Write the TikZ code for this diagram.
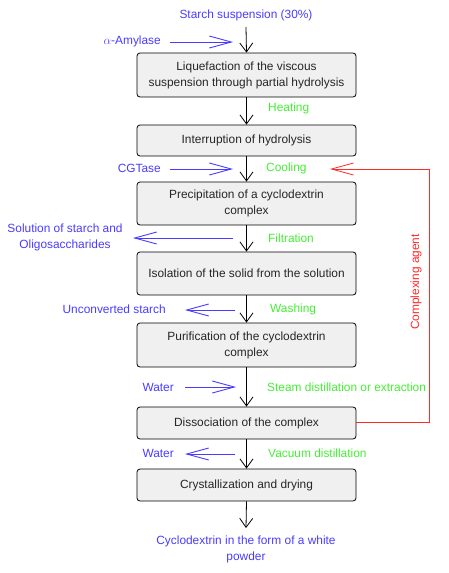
\documentclass[tikz,border=0pt]{standalone}
\usepackage{fontspec}
\setmainfont{Liberation Sans}
\usetikzlibrary{arrows.meta}
\definecolor{lblue}{HTML}{4A3CFF}
\definecolor{lgreen}{HTML}{44EE33}
\definecolor{lred}{HTML}{FF2A2A}
\definecolor{boxfill}{HTML}{EFF0EF}
\begin{document}
\begin{tikzpicture}[x=1pt,y=-1pt,
  every node/.style={font=\fontsize{11.9}{16}\selectfont, inner sep=0pt},
  stepbox/.style={draw=black, fill=boxfill, rounded corners=3pt, line width=0.8pt, minimum width=219pt, align=center, text=black!85},
  flow/.style={draw=black, line width=0.8pt, -{Straight Barb[length=9pt,width=13pt,line width=0.8pt]}},
  side/.style={draw=lblue, line width=0.9pt, -{Straight Barb[length=22pt,width=12pt,line width=0.9pt]}},
  back/.style={draw=lred, line width=0.8pt, -{Straight Barb[length=22pt,width=12pt,line width=0.8pt]}},
  inlab/.style={text=lblue, align=center},
  oplab/.style={text=lgreen, anchor=west}
]
\useasboundingbox (0,0) rectangle (448,573);

\node[stepbox, minimum height=44pt] (b1) at (246.5,75) {Liquefaction of the viscous\\suspension through partial hydrolysis};
\node[stepbox, minimum height=31pt] (b2) at (246.5,140.5) {Interruption of hydrolysis};
\node[stepbox, minimum height=43pt] (b3) at (246.5,203.5) {Precipitation of a cyclodextrin\\complex};
\node[stepbox, minimum height=43pt] (b4) at (246.5,273.5) {Isolation of the solid from the solution};
\node[stepbox, minimum height=44pt] (b5) at (246.5,345) {Purification of the cyclodextrin\\complex};
\node[stepbox, minimum height=32pt] (b6) at (246.5,423) {Dissociation of the complex};
\node[stepbox, minimum height=32pt] (b7) at (246.5,485) {Crystallization and drying};

% top input and bottom output
\node[inlab] (start) at (246,15) {Starch suspension (30\%)};
\node[inlab] (final) at (246,549) {Cyclodextrin in the form of a white\\powder};
\coordinate (tin) at (246,27);
\coordinate (fout) at (246,528);
\draw[flow] (tin) -- (b1.north);
\draw[flow] (b1) -- (b2);
\draw[flow] (b2) -- (b3);
\draw[flow] (b3) -- (b4);
\draw[flow] (b4) -- (b5);
\draw[flow] (b5) -- (b6);
\draw[flow] (b6) -- (b7);
\draw[flow] (b7.south) -- (fout);

% operation labels
\node[oplab] (heat) at (268,108) {Heating};
\node[oplab] (cool) at (266,168) {Cooling};
\node[oplab] (filt) at (268,238) {Filtration};
\node[oplab] (wash) at (270,309) {Washing};
\node[oplab] (steam) at (267,387) {Steam distillation or extraction};
\node[oplab] (vac) at (268,453) {Vacuum distillation};

% side inputs/outputs
\node[inlab, anchor=east] (amy) at (161,41) {$\alpha$-Amylase};
\coordinate (amyend) at (233,42);
\draw[side] (170,42) coordinate (amystart) -- (amyend);

\node[inlab, anchor=east] (cgt) at (161,168) {CGTase};
\coordinate (cgtend) at (233,169);
\draw[side] (170,169) coordinate (cgtstart) -- (cgtend);

\node[inlab] (sol) at (65,237) {Solution of starch and\\Oligosaccharides};
\coordinate (filtstart) at (233,238);
\coordinate (filtend) at (133,238);
\draw[side] (filtstart) -- (filtend);

\node[inlab, anchor=east] (unc) at (166,309) {Unconverted starch};
\coordinate (washstart) at (235,310);
\coordinate (washend) at (185,310);
\draw[side] (washstart) -- (washend);

\node[inlab, anchor=east] (w1) at (174,387) {Water};
\coordinate (w1start) at (185,387);
\coordinate (w1end) at (236,387);
\draw[side] (w1start) -- (w1end);

\node[inlab, anchor=east] (w2) at (174,453) {Water};
\coordinate (w2start) at (235,454);
\coordinate (w2end) at (185,454);
\draw[side] (w2start) -- (w2end);

% recycle of complexing agent
\coordinate (rc1) at (429,422);
\coordinate (rc2) at (429,169);
\coordinate (rcend) at (330,169);
\draw[back] (b6.east |- rc1) -- (rc1) -- (rc2) -- (rcend);
\node[text=lred, rotate=90] (cagent) at (416,282) {Complexing agent};
\end{tikzpicture}
\end{document}
